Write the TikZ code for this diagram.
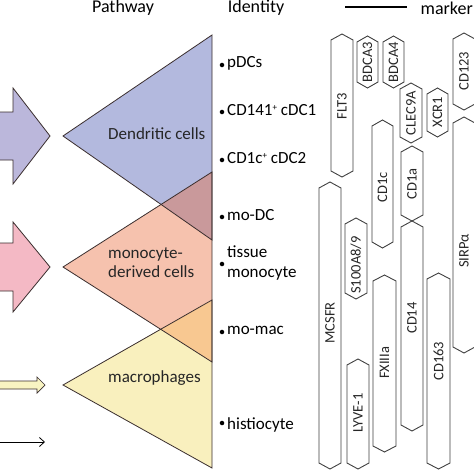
\documentclass[tikz,border=0pt]{standalone}
\usepackage{fontspec}
\setmainfont{Carlito}
\usetikzlibrary{arrows.meta}
\definecolor{dcfill}{HTML}{B3B9DE}
\definecolor{mofill}{HTML}{F6C2AE}
\definecolor{mafill}{HTML}{F9F0BE}
\definecolor{dcmo}{HTML}{C9999B}
\definecolor{moma}{HTML}{F8C891}
\definecolor{dcarrow}{HTML}{BBB7DB}
\definecolor{moarrow}{HTML}{F4B9C5}
\definecolor{maarrow}{HTML}{F8F4C2}
\definecolor{edge}{HTML}{3A2E2E}
\definecolor{bargray}{HTML}{404040}
\tikzset{
  tri/.style   = {draw=edge, line width=0.8pt, line join=miter},
  blk/.style   = {draw=edge, line width=0.8pt},
  bar/.style   = {draw=bargray, line width=0.9pt, fill=white},
  mlbl/.style  = {rotate=90, inner sep=0pt, text=black!85,
                  font=\fontsize{14.5}{16}\selectfont},
  tlbl/.style  = {anchor=west, align=left, inner sep=0pt, text=black!85,
                  font=\fontsize{17}{19}\selectfont},
  idt/.style   = {anchor=west, align=left, inner sep=0pt,
                  font=\fontsize{17}{20}\selectfont},
  hdr/.style   = {inner sep=0pt, font=\fontsize{18}{20}\selectfont},
  dot/.style   = {circle, fill=black, inner sep=1.6pt},
}
\newcommand{\plussup}[1]{\raisebox{0.55ex}{\fontsize{9}{9}\selectfont #1}}
% one marker bar: name, x left, x right, top, bottom, label y, label
\newcommand{\mbar}[7]{%
  \draw[bar] (#2,#4+6) -- ({(#2+#3)/2},#4) -- (#3,#4+6) -- (#3,#5-6)
    -- ({(#2+#3)/2},#5) -- (#2,#5-6) -- cycle;
  \node[mlbl] (#1) at ({(#2+#3)/2},#6) {#7};
}

\begin{document}
\begin{tikzpicture}[x=1pt,y=-1pt]
  \useasboundingbox (0,0) rectangle (474,474);
  \fill[white] (0,0) rectangle (474,474);

  % headers
  \node[hdr] (pathway) at (123,8) {Pathway};
  \node[hdr] (identity) at (256,8) {Identity};
  \coordinate (keyl) at (345,7);
  \coordinate (keyr) at (407,7);
  \draw[line width=1.8pt] (keyl) -- (keyr);
  \node[hdr, anchor=east] (markers) at (473,8) {marker};

  % input arrows
  \draw[blk, fill=dcarrow] (-5,112) -- (13,112) -- (13,88) -- (50,136)
    -- (13,184) -- (13,160) -- (-5,160) -- cycle;
  \draw[blk, fill=moarrow] (-5,243) -- (13,243) -- (13,222) -- (50,267)
    -- (13,312) -- (13,291) -- (-5,291) -- cycle;
  \draw[blk, fill=maarrow, line width=0.7pt] (-5,381) -- (37,381) -- (37,377) -- (45,385)
    -- (37,393) -- (37,389) -- (-5,389) -- cycle;
  \coordinate (lnstart) at (-5,442);
  \coordinate (lnend) at (45,442);
  \draw[line width=0.8pt, -{Straight Barb[length=5pt,width=9pt]}] (lnstart) -- (lnend);

  % pathway triangles
  \fill[dcfill] (63,136) -- (212,35) -- (212,240) -- cycle;
  \fill[mofill] (63,267) -- (212,172) -- (212,362) -- cycle;
  \fill[mafill] (63,385) -- (212,300) -- (212,468) -- cycle;
  \begin{scope}
    \clip (63,136) -- (212,35) -- (212,240) -- cycle;
    \fill[dcmo] (63,267) -- (212,172) -- (212,362) -- cycle;
  \end{scope}
  \begin{scope}
    \clip (63,267) -- (212,172) -- (212,362) -- cycle;
    \fill[moma] (63,385) -- (212,300) -- (212,468) -- cycle;
  \end{scope}
  \draw[tri] (63,136) -- (212,35) -- (212,240) -- cycle;
  \draw[tri] (63,267) -- (212,172) -- (212,362) -- cycle;
  \draw[tri] (63,385) -- (212,300) -- (212,468) -- cycle;
  \node[tlbl] (dc) at (108,134) {Dendritic cells};
  \node[tlbl] (mono) at (108,263) {monocyte-\\derived cells};
  \node[tlbl] (mac) at (108,378) {macrophages};

  % identities
  \node[dot] (d1) at (222,65) {};
  \node[idt] (pdc) at (227,63) {pDCs};
  \node[dot] (d2) at (222,112) {};
  \node[idt] (cdc1) at (227,110) {CD141\plussup{+} cDC1};
  \node[dot] (d3) at (222,160) {};
  \node[idt] (cdc2) at (227,158) {CD1c\plussup{+} cDC2};
  \node[dot] (d4) at (222,217) {};
  \node[idt] (modc) at (227,215) {mo-DC};
  \node[dot] (d5) at (222,264) {};
  \node[idt] (tmono) at (227,263) {tissue\\monocyte};
  \node[dot] (d6) at (222,332) {};
  \node[idt] (momac) at (227,330) {mo-mac};
  \node[dot] (d7) at (222,423) {};
  \node[idt] (histio) at (227,425) {histiocyte};

  % markers
  \mbar{flt}{331}{353}{34}{177}{106}{FLT3}
  \mbar{bdcaiii}{357}{378}{36}{88}{62}{BDCA3}
  \mbar{bdcaiv}{383}{404}{36}{88}{62}{BDCA4}
  \mbar{clec}{400}{422}{83}{143}{113}{CLEC9A}
  \mbar{xcr}{427}{448}{88}{137}{112}{XCR1}
  \mbar{cdcxxiii}{453}{475}{33}{110}{71}{CD123}
  \mbar{sirp}{453}{475}{117}{353}{251}{SIRPα}
  \mbar{cdic}{372}{393}{120}{248}{187}{CD1c}
  \mbar{cdia}{401}{423}{146}{221}{184}{CD1a}
  \mbar{cdxiv}{401}{423}{221}{431}{318}{CD14}
  \mbar{mcsfr}{319}{341}{182}{469}{323}{MCSFR}
  \mbar{sviii}{345}{367}{218}{299}{265}{S100A8/9}
  \mbar{fxiii}{373}{396}{275}{452}{363}{FXIIIa}
  \mbar{cdclxiii}{427}{450}{273}{469}{361}{CD163}
  \mbar{lyve}{347}{369}{359}{469}{413}{LYVE-1}
\end{tikzpicture}
\end{document}
